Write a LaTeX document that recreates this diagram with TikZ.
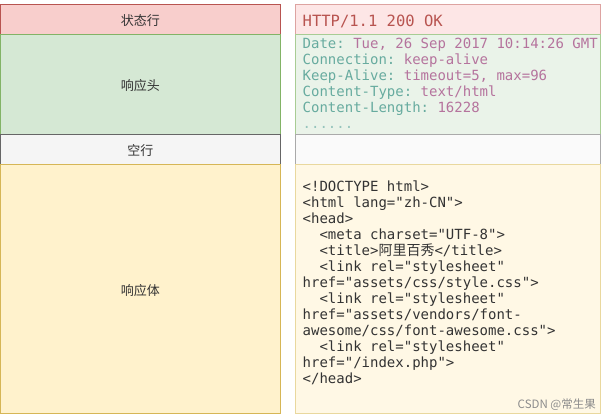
\documentclass[tikz,border=0pt]{standalone}
\usepackage{fontspec}
\setmainfont{Noto Sans CJK SC}
\newfontfamily\cjk{Noto Sans CJK SC}
\setmonofont{DejaVu Sans Mono}
\definecolor{redF}{HTML}{F8CECC}\definecolor{redS}{HTML}{B85450}
\definecolor{greenF}{HTML}{D5E8D4}\definecolor{greenS}{HTML}{82B366}
\definecolor{grayF}{HTML}{F5F5F5}\definecolor{grayS}{HTML}{666666}
\definecolor{yelF}{HTML}{FFF2CC}\definecolor{yelS}{HTML}{D6B656}
\definecolor{redLF}{HTML}{FDE6E6}\definecolor{redLS}{HTML}{DDA3A1}
\definecolor{greenLF}{HTML}{EAF3E9}\definecolor{greenLS}{HTML}{A8CC94}
\definecolor{grayLF}{HTML}{FAFAFA}\definecolor{grayLS}{HTML}{AAAAAA}
\definecolor{yelLF}{HTML}{FFF8E5}\definecolor{yelLS}{HTML}{E9D89E}
\definecolor{keyC}{HTML}{67AB9F}\definecolor{valC}{HTML}{B5739D}
\definecolor{txtC}{HTML}{333333}
\newcommand{\lowlbl}[1]{\raisebox{-2pt}[11.4pt][1.6pt]{#1}}
\begin{document}
\begin{tikzpicture}[x=1pt,y=-1pt,
  box/.style={draw,line width=1pt,inner sep=0pt,outer sep=0pt,anchor=north west,
    text=txtC,font=\cjk\fontsize{13}{15}\selectfont},
  lbox/.style={box,minimum width=279.5pt},
  rbox/.style={box,minimum width=305pt},
  codeline/.style={anchor=base west,inner sep=0pt,text=txtC,font=\ttfamily\fontsize{14}{16}\selectfont},
  hdr/.style={codeline,text=keyC}]
\useasboundingbox (0,0) rectangle (601,415);
% left column
\node[lbox,fill=redF,draw=redS,minimum height=30pt] (ls) at (0.5,4) {\lowlbl{状态行}};
\node[lbox,fill=greenF,draw=greenS,minimum height=100pt] (lh) at (0.5,34) {\lowlbl{响应头}};
\node[lbox,fill=grayF,draw=grayS,minimum height=30pt] (le) at (0.5,134) {\lowlbl{空行}};
\node[lbox,fill=yelF,draw=yelS,minimum height=249pt] (lb) at (0.5,164) {\lowlbl{响应体}};
% right column
\node[rbox,fill=redLF,draw=redLS,minimum height=30pt] (rs) at (295,4) {};
\node[rbox,fill=greenLF,draw=greenLS,minimum height=100pt] (rh) at (295,34) {};
\node[rbox,fill=grayLF,draw=grayLS,minimum height=30pt] (re) at (295,134) {};
\node[rbox,fill=yelLF,draw=yelLS,minimum height=249pt] (rb) at (295,164) {};
% status line
\node[codeline,text=redS,font=\ttfamily\fontsize{15.5}{18}\selectfont] (st) at (302.5,26.5) {HTTP/1.1 200 OK};
% headers
\node[hdr] (h1) at (302.5,48) {Date: \textcolor{valC}{Tue, 26 Sep 2017 10:14:26 GMT}};
\node[hdr] (h2) at (302.5,64) {Connection: \textcolor{valC}{keep-alive}};
\node[hdr] (h3) at (302.5,80) {Keep-Alive: \textcolor{valC}{timeout=5, max=96}};
\node[hdr] (h4) at (302.5,96) {Content-Type: \textcolor{valC}{text/html}};
\node[hdr] (h5) at (302.5,112) {Content-Length: \textcolor{valC}{16228}};
\node[hdr,text=keyC!70!white] (h6) at (302.5,128) {......};
% body
\node[codeline] (b1) at (302.5,191.5) {<!DOCTYPE html>};
\node[codeline] (b2) at (302.5,207.5) {<html lang="zh-CN">};
\node[codeline] (b3) at (302.5,223.5) {<head>};
\node[codeline] (b4) at (302.5,239.5) {\ \ <meta charset="UTF-8">};
\node[codeline] (b5) at (302.5,255.5) {\ \ <title>{\cjk\fontsize{14}{16}\selectfont 阿里百秀}</title>};
\node[codeline] (b6) at (302.5,271.5) {\ \ <link rel="stylesheet"};
\node[codeline] (b7) at (302.5,287.5) {href="assets/css/style.css">};
\node[codeline] (b8) at (302.5,303.5) {\ \ <link rel="stylesheet"};
\node[codeline] (b9) at (302.5,319.5) {href="assets/vendors/font-};
\node[codeline] (b10) at (302.5,335.5) {awesome/css/font-awesome.css">};
\node[codeline] (b11) at (302.5,351.5) {\ \ <link rel="stylesheet"};
\node[codeline] (b12) at (302.5,367.5) {href="/index.php">};
\node[codeline] (b13) at (302.5,383.5) {</head>};
% watermark
\node[anchor=base east,inner sep=0pt,text=black!45,font=\cjk\fontsize{11.5}{13}\selectfont] (wm) at (596,408) {CSDN @常生果};
\end{tikzpicture}
\end{document}
